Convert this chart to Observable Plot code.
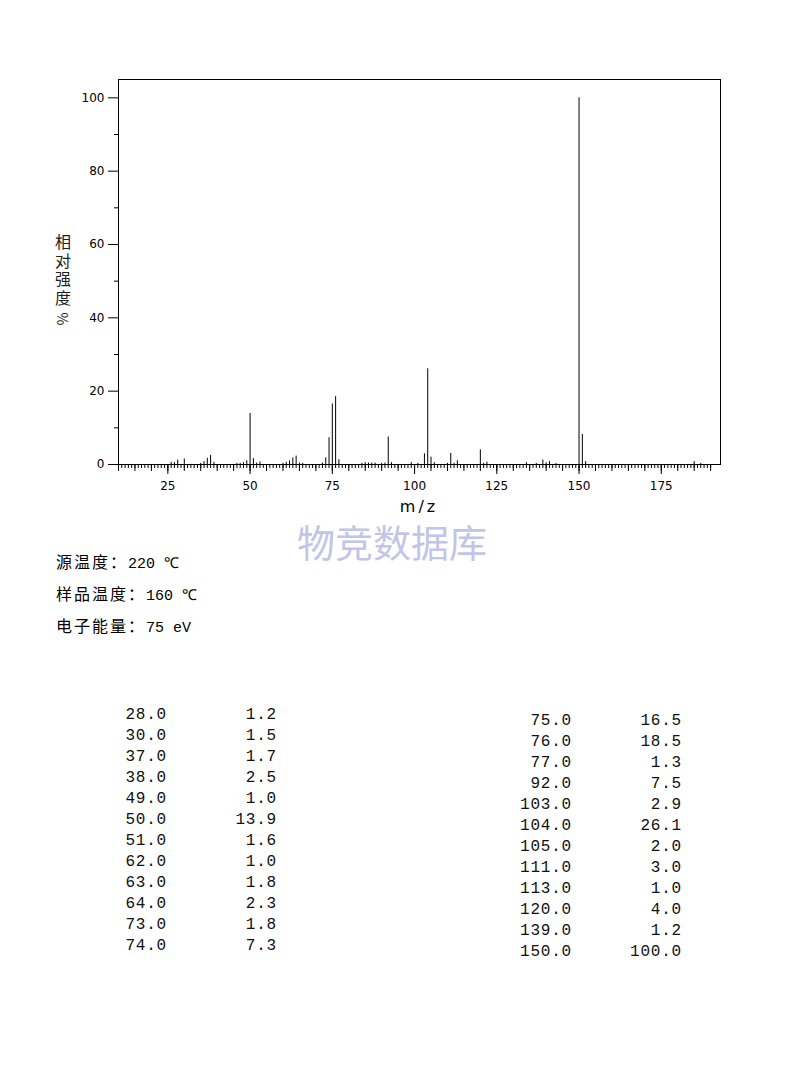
<!DOCTYPE html>
<html>
<head>
<meta charset="utf-8">
<script src="https://cdn.jsdelivr.net/npm/d3@7"></script>
<script src="https://cdn.jsdelivr.net/npm/@observablehq/plot@0.6"></script>
<style>
  body { margin: 0; background: #fff; }
  #wrap { position: relative; width: 794px; height: 1077px; overflow: hidden; background: #fff; }
  #chart { position: absolute; left: 0; top: 0; }
  .abs { position: absolute; white-space: pre; color: #000; }
  .cjk { font-family: "Noto Sans CJK SC", sans-serif; }
  .mono { font-family: "Liberation Mono", "DejaVu Sans Mono", monospace; }
</style>
</head>
<body>
<div id="wrap"><div id="chart"></div></div>
<script>
// m/z values and relative intensities (%)
const mz = [26, 27, 28, 30, 35, 36, 37, 38, 39,
  46, 47, 48, 49, 50, 51, 52, 53,
  60, 61, 62, 63, 64, 65, 66,
  72, 73, 74, 75, 76, 77,
  84, 85, 86, 87, 88, 90, 91, 92, 93,
  99, 101, 103, 104, 105, 106,
  110, 111, 112, 113, 120, 121, 122,
  134, 137, 139, 140, 141, 143,
  150, 151, 152, 185, 187];
const intensity = [0.6, 0.5, 1.2, 1.5, 0.3, 0.8, 1.7, 2.5, 0.6,
  0.3, 0.3, 0.5, 1.0, 13.9, 1.6, 0.4, 0.7,
  0.3, 0.6, 1.0, 1.8, 2.3, 0.4, 0.3,
  0.4, 1.8, 7.3, 16.5, 18.5, 1.3,
  0.3, 0.5, 0.4, 0.4, 0.4, 0.3, 0.4, 7.5, 0.5,
  0.5, 0.3, 2.9, 26.1, 2.0, 0.5,
  0.3, 3.0, 0.3, 1.0, 4.0, 0.3, 0.6,
  0.5, 0.3, 1.2, 0.5, 0.8, 0.3,
  100.0, 8.2, 0.8, 0.8, 0.3];

// peak table as printed below the chart
const tableLeftMz = [28.0, 30.0, 37.0, 38.0, 49.0, 50.0, 51.0, 62.0, 63.0, 64.0, 73.0, 74.0];
const tableLeftInt = [1.2, 1.5, 1.7, 2.5, 1.0, 13.9, 1.6, 1.0, 1.8, 2.3, 1.8, 7.3];
const tableRightMz = [75.0, 76.0, 77.0, 92.0, 103.0, 104.0, 105.0, 111.0, 113.0, 120.0, 139.0, 150.0];
const tableRightInt = [16.5, 18.5, 1.3, 7.5, 2.9, 26.1, 2.0, 3.0, 1.0, 4.0, 1.2, 100.0];

const xMajorTicks = [25, 50, 75, 100, 125, 150, 175];
const yMajorTicks = [0, 20, 40, 60, 80, 100];
const yMinorTicks = [10, 30, 50, 70, 90];
const xMinorTicks = d3.range(10, 191);
const xMidTicks = d3.range(10, 191, 5);

const conditions = [
  ["源温度：", "220 ℃"],
  ["样品温度：", "160 ℃"],
  ["电子能量：", "75 eV"]
];

const peaks = mz.map((m, i) => ({mz: m, intensity: intensity[i]}));

const chart = Plot.plot({
  width: 794,
  height: 500,
  marginLeft: 118,
  marginRight: 74,
  marginTop: 79,
  marginBottom: 36,
  style: {fontFamily: "DejaVu Sans", fontSize: "12px", color: "#000", background: "transparent"},
  x: {domain: [10, 193], label: null},
  y: {domain: [0, 105], label: null},
  marks: [
    Plot.axisX({ticks: xMinorTicks, tickSize: 4, tickFormat: () => "", label: null}),
    Plot.axisX({ticks: xMidTicks, tickSize: 7, tickFormat: () => "", label: null}),
    Plot.axisX({ticks: xMajorTicks, tickSize: 10, tickPadding: 7, fontSize: 12, label: null}),
    Plot.axisY({ticks: yMinorTicks, tickSize: 4, tickFormat: () => "", label: null}),
    Plot.axisY({ticks: yMajorTicks, tickSize: 10, tickPadding: 4, fontSize: 12, label: null}),
    Plot.ruleX(peaks, {x: "mz", y1: 0, y2: "intensity", stroke: "#000", strokeWidth: 1}),
    Plot.frame({stroke: "#000"})
  ]
});
document.getElementById("chart").appendChild(chart);

const wrap = document.getElementById("wrap");
function addText(html, css, cls) {
  const d = document.createElement("div");
  d.className = "abs " + (cls || "");
  Object.assign(d.style, css);
  d.innerHTML = html;
  wrap.appendChild(d);
  return d;
}

// y axis title (vertical)
addText("相对强度", {left: "54px", top: "234px",
  writingMode: "vertical-rl", fontSize: "16px", letterSpacing: "2.5px", lineHeight: "18px", color: "#222"}, "cjk");
addText("%", {left: "57px", top: "312px", fontSize: "14px", lineHeight: "14px", color: "#222",
  transform: "rotate(90deg)", transformOrigin: "50% 50%"}, "cjk");

// x axis title
addText("m/z", {left: "419px", top: "498px", transform: "translateX(-50%)", fontFamily: "DejaVu Sans",
  fontSize: "16px", letterSpacing: "3px", lineHeight: "18px"});

// watermark
addText("物竞数据库", {left: "297px", top: "522px", fontSize: "38px", lineHeight: "38px",
  color: "rgb(196,196,232)"}, "cjk");

// acquisition conditions
conditions.forEach((c, i) => {
  addText('<span class="cjk" style="font-size:16px;letter-spacing:2px">' + c[0] +
    '</span><span class="mono" style="font-size:15px">' + c[1] + '</span>',
    {left: "56px", top: (551 + i * 32) + "px", lineHeight: "20px"});
});

// peak tables
const cols = [
  {mzs: tableLeftMz, ints: tableLeftInt, mzRight: 167, valRight: 277, top: 715},
  {mzs: tableRightMz, ints: tableRightInt, mzRight: 572, valRight: 682, top: 720.5}
];
cols.forEach(col => {
  col.mzs.forEach((m, i) => {
    const cy = col.top + i * 21;
    addText(m.toFixed(1), {right: (794 - col.mzRight) + "px", top: (cy - 10) + "px",
      fontSize: "16px", lineHeight: "20px", letterSpacing: "0.8px", color: "#111"}, "mono");
    addText(col.ints[i].toFixed(1), {right: (794 - col.valRight) + "px", top: (cy - 10) + "px",
      fontSize: "16px", lineHeight: "20px", letterSpacing: "0.8px", color: "#111"}, "mono");
  });
});
</script>
</body>
</html>
